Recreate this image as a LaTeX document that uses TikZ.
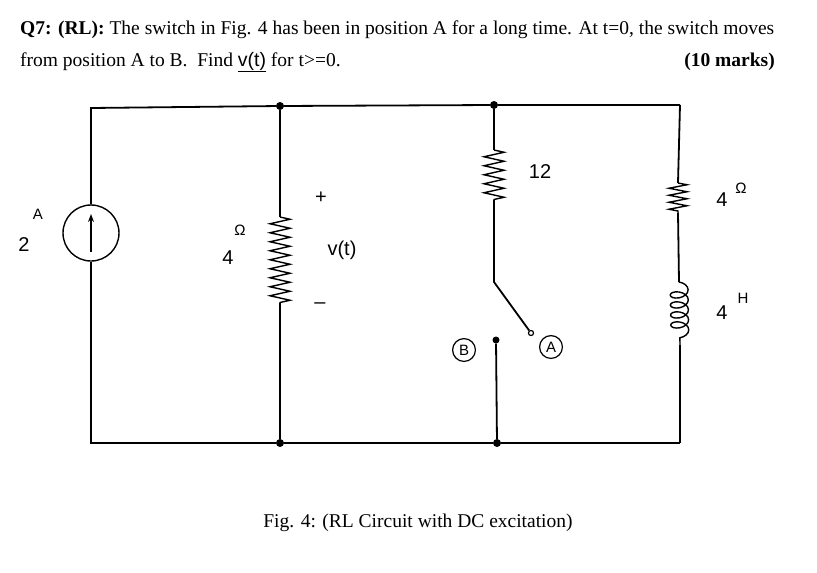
\documentclass[tikz,border=0pt]{standalone}
\usepackage{fontspec}
\setmainfont{Liberation Serif}
\newfontfamily\hand{Liberation Sans}
\usetikzlibrary{decorations.pathmorphing,arrows.meta}
\begin{document}
\begin{tikzpicture}[x=1pt,y=-1pt,
  wire/.style={line width=1.8pt},
  res/.style={line width=1.4pt,decorate,decoration={zigzag,segment length=9pt,amplitude=10pt}},
  coil/.style={line width=1.4pt,decorate,decoration={coil,aspect=0.6,segment length=10pt,amplitude=9pt}},
  dot/.style={circle,fill=black,inner sep=0pt,minimum size=8pt},
  lbl/.style={font=\hand\fontsize{20}{22}\selectfont,inner sep=0pt},
  sml/.style={font=\hand\fontsize{15}{17}\selectfont,inner sep=0pt},
  txt/.style={font=\fontsize{19.5}{22}\selectfont,inner sep=0pt}]
\useasboundingbox (0,0) rectangle (817,573);
\fill[white] (0,0) rectangle (817,573);
% text
\node[txt,anchor=west] (q1) at (20,30) {\textbf{Q7: (RL):} The switch in Fig. 4 has been in position A for a long time. At t=0, the switch moves};
\node[txt,anchor=west] (q2) at (20,62) {from position A to B.\ \ Find \underline{\hand v(t)} for t>=0.};
\node[txt,anchor=east] (mk) at (775,62) {\textbf{(10 marks)}};
\node[txt] (cap) at (418,523) {Fig. 4: (RL Circuit with DC excitation)};
% corners and junctions
\coordinate (tl) at (91,108);
\coordinate (bl) at (91,443);
\coordinate (tr) at (680,105);
\coordinate (br) at (680,443);
\node[dot] (j1) at (280,106) {};
\node[dot] (j2) at (494,105) {};
\node[dot] (j3) at (280,443) {};
\node[dot] (j4) at (497,443) {};
% source
\node[draw,circle,line width=1.4pt,minimum size=56pt,inner sep=0pt] (src) at (91,233) {};
\draw[line width=1.4pt,-{Stealth[length=8pt]}] (91,252) -- (91,214);
\draw[wire] (src.north) -- (tl) -- (j1) -- (j2) -- (tr);
\draw[wire] (src.south) -- (bl) -- (j3) -- (j4) -- (br);
\node[lbl] (s2) at (24,245) {2};
\node[sml] (sA) at (38,214) {A};
% 4 ohm
\coordinate (r1t) at (280,217);
\coordinate (r1b) at (280,303);
\draw[wire] (j1) -- (r1t);
\draw[res] (r1t) -- (r1b);
\draw[wire] (r1b) -- (j3);
\node[lbl] (r1l) at (228,258) {4};
\node[sml] (r1o) at (240,230) {Ω};
\node[lbl] (pl) at (321,198) {+};
\node[lbl] (vt) at (342,250) {v(t)};
\node[lbl] (mi) at (320,306) {–};
% middle branch
\coordinate (r2t) at (494,150);
\coordinate (r2b) at (494,200);
\coordinate (sw) at (494,282);
\node[circle,draw,fill=white,inner sep=1.8pt,line width=1.2pt] (pA) at (531,333) {};
\node[dot,minimum size=7pt] (pB) at (496,340) {};
\draw[wire] (j2) -- (r2t);
\draw[res] (r2t) -- (r2b);
\draw[wire] (r2b) -- (sw) -- (pA);
\draw[wire] (pB) -- (j4);
\node[lbl] (r2l) at (540,172) {12};
\node[sml,draw,circle,line width=1.2pt,inner sep=3pt] (lB) at (464,350) {B};
\node[sml,draw,circle,line width=1.2pt,inner sep=3pt] (lA) at (551,347) {A};
% right branch
\coordinate (r3t) at (678,183);
\coordinate (r3b) at (678,213);
\coordinate (lt) at (679,282);
\coordinate (lb) at (680,345);
\draw[wire] (tr) -- (r3t);
\draw[res,decoration={amplitude=9pt,segment length=7pt}] (r3t) -- (r3b);
\draw[wire] (r3b) -- (lt);
\draw[coil] (lt) -- (lb);
\draw[wire] (lb) -- (br);
\node[lbl] (r3l) at (722,200) {4};
\node[sml] (r3o) at (741,188) {Ω};
\node[lbl] (l3l) at (722,313) {4};
\node[sml] (l3h) at (743,298) {H};
\end{tikzpicture}
\end{document}
